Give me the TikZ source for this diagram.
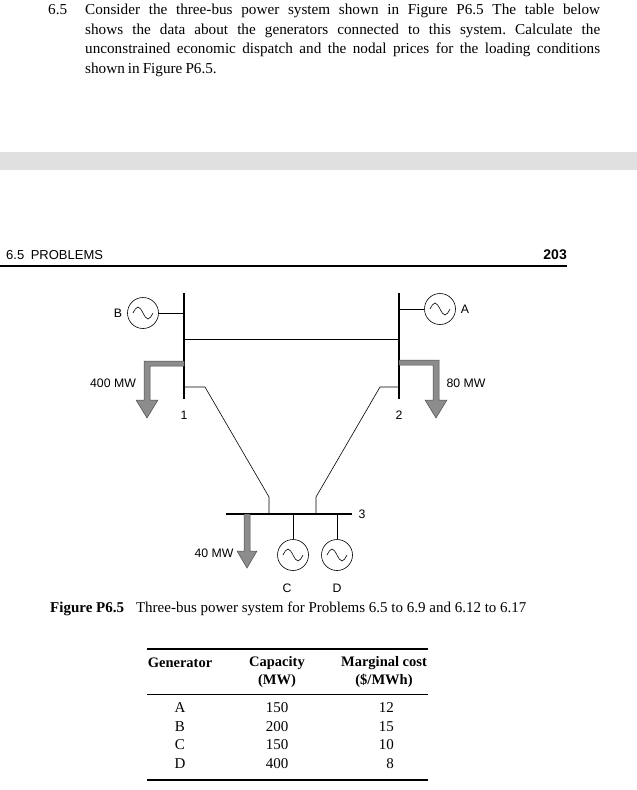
\documentclass[tikz,border=0pt]{standalone}
\usepackage{fontspec}
\setmainfont{Liberation Serif}
\newfontfamily\lsans{Liberation Sans}
\frenchspacing
\begin{document}
\begin{tikzpicture}[x=1pt,y=-1pt,
  bus/.style={line width=1.3pt},
  ln/.style={line width=0.6pt},
  gen/.style={circle,draw,line width=0.6pt,minimum size=31pt,inner sep=0pt},
  lbl/.style={font=\lsans\fontsize{12.3}{14}\selectfont,inner sep=0pt},
  load/.style={draw=black!70,fill=black!45,line width=0.5pt},
  txt/.style={font=\fontsize{15.2}{19.5}\selectfont,inner sep=0pt,anchor=north west},
  tb/.style={font=\fontsize{15}{18}\selectfont,inner sep=0pt},
  tbh/.style={font=\bfseries\fontsize{14.5}{18.5}\selectfont,inner sep=0pt,align=center}]
\useasboundingbox (0,0) rectangle (637,790);
% top text
\node[txt] (num) at (48,4) {6.5};
\node[txt,text width=515pt,align=justify] (ptext) at (85,4) {\spaceskip=0.2em plus 1em minus 0.1em Consider the three-bus power system shown in Figure P6.5 The table below\linebreak shows the data about the generators connected to this system. Calculate the\linebreak unconstrained economic dispatch and the nodal prices for the loading conditions\linebreak shown in Figure P6.5.};
\fill[black!12] (0,152) rectangle (637,170);
\node[font=\lsans\fontsize{13}{14}\selectfont,anchor=base west,inner sep=0pt] (hd) at (6,259) {6.5\hspace{0.5em}PROBLEMS};
\node[font=\lsans\bfseries\fontsize{14}{15}\selectfont,anchor=base east,inner sep=0pt] (pg) at (567,259) {203};
\draw[line width=1.3pt] (0,266) -- (567,266);
% buses
\coordinate (b1t) at (184,293); \coordinate (b1b) at (184,399);
\coordinate (b2t) at (399,293); \coordinate (b2b) at (399,399);
\coordinate (b3l) at (226,514); \coordinate (b3r) at (352,514);
\draw[bus] (b1t) -- (b1b); \draw[bus] (b2t) -- (b2b); \draw[bus] (b3l) -- (b3r);
\draw[ln] (184,339) -- (399,339);
% generators
\tikzset{wave/.style={line width=0.6pt}}
\node[gen] (gB) at (143,313) {}; \draw[wave] (133,313) sin (138,307) cos (143,313) sin (148,319) cos (153,313);
\node[gen] (gA) at (440,309) {}; \draw[wave] (430,309) sin (435,303) cos (440,309) sin (445,315) cos (450,309);
\node[gen] (gC) at (293,555) {}; \draw[wave] (283,555) sin (288,549) cos (293,555) sin (298,561) cos (303,555);
\node[gen] (gD) at (337,555) {}; \draw[wave] (327,555) sin (332,549) cos (337,555) sin (342,561) cos (347,555);
\draw[ln] (gB.east) -- (184,313);
\draw[ln] (399,309) -- (gA.west);
\draw[ln] (293,514) -- (gC.north);
\draw[ln] (337,514) -- (gD.north);
\node[lbl] (lB) at (118,313) {B};
\node[lbl] (lA) at (465,309) {A};
\node[lbl] (lC) at (287,588) {C};
\node[lbl] (lD) at (337,588) {D};
% lines to bus 3
\draw[ln] (184,387) -- (205,387) -- (269,497) -- (269,514);
\draw[ln] (399,387) -- (380,387) -- (316,497) -- (316,514);
% loads
\draw[load] (184,361) -- (144,361) -- (144,400) -- (136,400) -- (147,418) -- (158,400) -- (150,400) -- (150,366) -- (184,366) -- cycle;
\draw[load] (399,360) -- (439,360) -- (439,400) -- (447,400) -- (436,418) -- (425,400) -- (433,400) -- (433,365) -- (399,365) -- cycle;
\draw[load] (244,514) -- (244,551) -- (237,551) -- (247,568) -- (257,551) -- (250,551) -- (250,514) -- cycle;
\node[lbl] (l400) at (113,383) {400 MW};
\node[lbl] (l80) at (466,383) {80 MW};
\node[lbl] (l40) at (214,553) {40 MW};
\node[lbl] (n1) at (184,415) {1};
\node[lbl] (n2) at (399,415) {2};
\node[lbl] (n3) at (362,514) {3};
% caption
\node[font=\fontsize{15}{18}\selectfont,anchor=base west,inner sep=0pt] (cap) at (50,612) {\textbf{Figure P6.5}\hspace{0.8em}Three-bus power system for Problems 6.5 to 6.9 and 6.12 to 6.17};
% table
\draw[line width=1.3pt] (147,649) -- (428,649);
\draw[line width=0.8pt] (147,694) -- (428,694);
\draw[line width=1.3pt] (147,780) -- (428,780);
\node[tbh] (h1) at (180,663) {Generator};
\node[tbh] (h2) at (277,672) {Capacity\\(MW)};
\node[tbh] (h3) at (384,672) {Marginal cost\\(\$/MWh)};
\foreach \g/\c/\m/\y in {A/150/12/708,B/200/15/727,C/150/10/745,D/400/8/764}{
  \node[tb] at (180,\y) {\g};
  \node[tb] at (277,\y) {\c};
  \node[tb,anchor=east] at (394,\y) {\m};
}
\end{tikzpicture}
\end{document}
